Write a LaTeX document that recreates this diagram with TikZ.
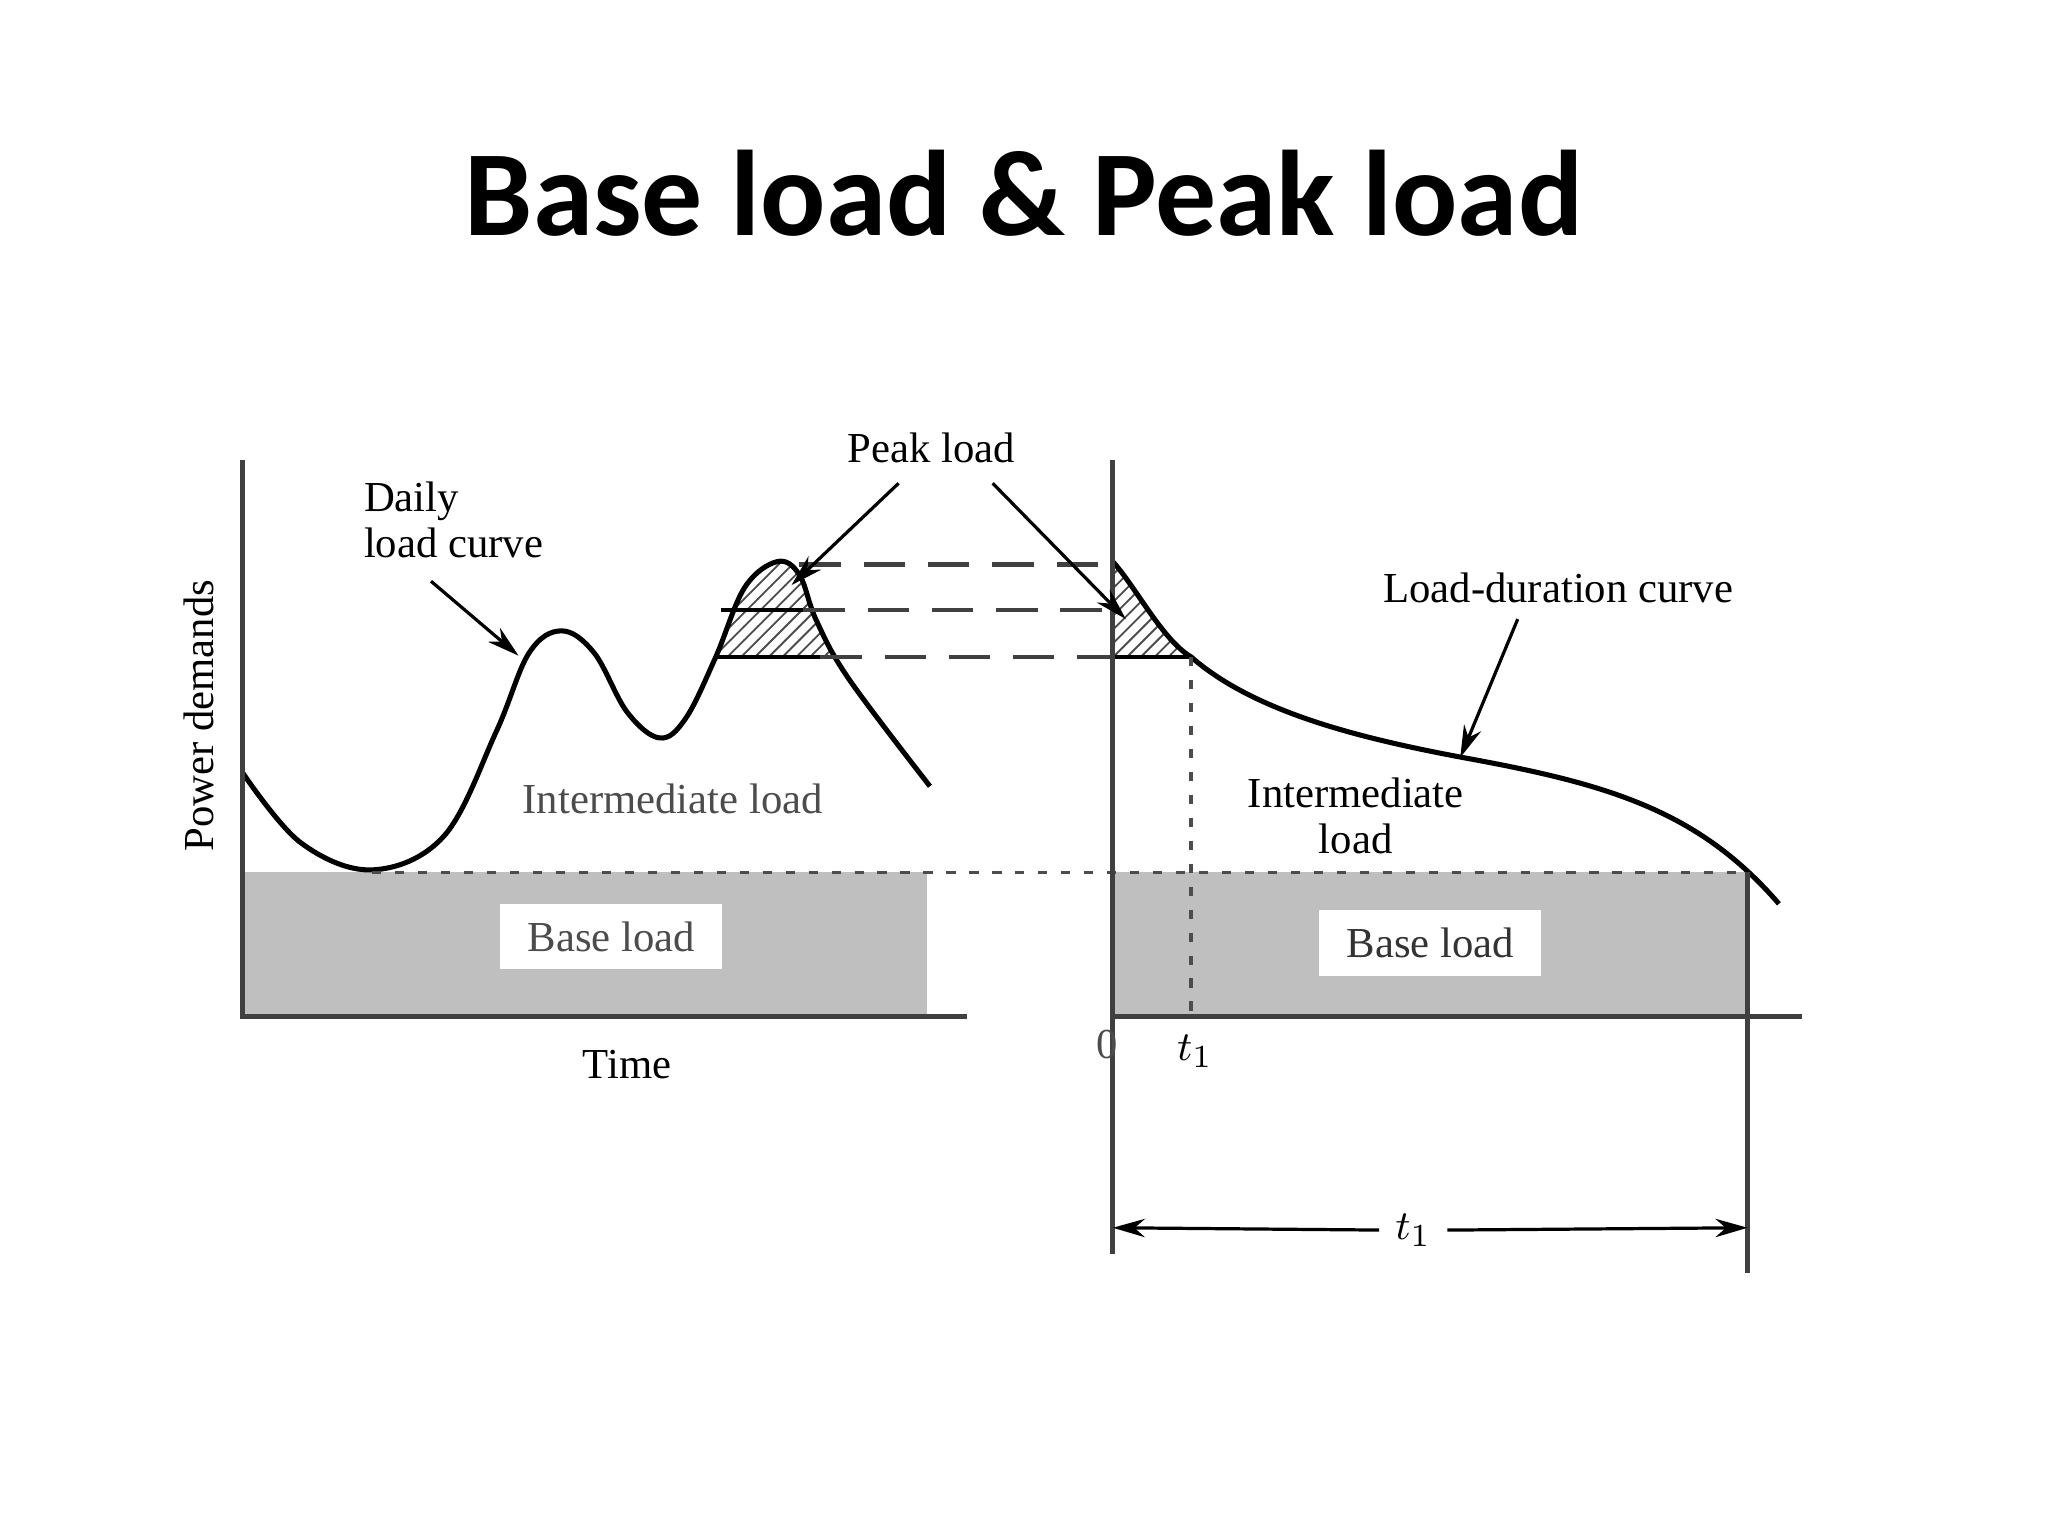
\documentclass[tikz,border=0pt]{standalone}
\usepackage{fontspec}
\setmainfont{Liberation Serif}
\newfontfamily\titlefont{Carlito}
\usetikzlibrary{patterns,arrows.meta}
\begin{document}
\begin{tikzpicture}[x=0.01cm,y=-0.01cm,
  lbl/.style={font=\fontsize{9.3}{10}\selectfont},
  ax/.style={line width=1.1pt,black!75},
  dsh/.style={dash pattern=on 9pt off 5pt,line width=1pt,black!75},
  dot/.style={dash pattern=on 2pt off 3pt,line width=0.8pt,black!70},
  arr/.style={-{Stealth[length=7pt,width=4pt]},line width=0.7pt},
  curve/.style={line width=1.1pt}]
\useasboundingbox (0,0) rectangle (1568,1176);
\node[font=\titlefont\bfseries\fontsize{26.5}{30}\selectfont] (title) at (784,148) {Base load \& Peak load};
% base rects
\fill[black!25] (186,668) rectangle (710,778);
\fill[black!25] (852,668) rectangle (1338,778);
\node[lbl,fill=white,minimum width=1.7cm,minimum height=0.5cm,text=black!70] (bl1) at (468,717) {Base load};
\node[lbl,fill=white,minimum width=1.7cm,minimum height=0.5cm,text=black!80] (bl2) at (1095,722) {Base load};
% hatch left
\begin{scope}
\clip plot[smooth,tension=0.6] coordinates {(186,592) (230,645) (285,666) (340,640) (380,560) (405,500) (430,483) (455,500) (480,545) (505,565) (525,550) (548,503) (570,450) (595,430) (612,440) (625,475) (650,520) (712,602)} -- (712,778) -- (186,778) -- cycle;
\fill[pattern=north east lines,pattern color=black!70] (530,420) rectangle (660,503);
\end{scope}
\draw[curve] plot[smooth,tension=0.6] coordinates {(186,592) (230,645) (285,666) (340,640) (380,560) (405,500) (430,483) (455,500) (480,545) (505,565) (525,550) (548,503) (570,450) (595,430) (612,440) (625,475) (650,520) (712,602)};
\draw[line width=0.8pt] (552,467) -- (615,467) (548,503) -- (628,503);
% hatch right
\begin{scope}
\clip (852,430) .. controls (870,450) and (890,490) .. (912,503) .. controls (960,545) and (1040,565) .. (1120,580) .. controls (1230,600) and (1300,620) .. (1362,692) -- (1362,778) -- (852,778) -- cycle;
\fill[pattern=north east lines,pattern color=black!70] (852,420) rectangle (912,503);
\end{scope}
\draw[curve] (852,430) .. controls (870,450) and (890,490) .. (912,503) .. controls (960,545) and (1040,565) .. (1120,580) .. controls (1230,600) and (1300,620) .. (1362,692);
\draw[line width=0.8pt] (852,503) -- (912,503);
% dashed guides
\draw[dsh] (612,432) -- (852,432);
\draw[dsh] (615,467) -- (852,467);
\draw[dsh] (628,503) -- (852,503);
\draw[dot] (285,668) -- (1338,668);
\draw[dot] (912,503) -- (912,778);
% axes
\draw[ax] (186,352) -- (186,778) -- (740,778);
\draw[ax] (852,352) -- (852,960);
\draw[ax] (852,778) -- (1380,778);
\draw[ax] (1338,668) -- (1338,975);
% dimension
\node[lbl] (t1b) at (1082,942) {$t_1$};
\coordinate (dl) at (852,940); \coordinate (dr) at (1338,940);
\draw[arr] (t1b) -- (dl);
\draw[arr] (t1b) -- (dr);
% labels
\node[lbl,rotate=90] (pd) at (152,548) {Power demands};
\node[lbl] (time) at (480,815) {Time};
\node[lbl,text=black!70] (zero) at (848,800) {0};
\node[lbl] (t1a) at (915,805) {$t_1$};
\node[lbl,align=left,anchor=north west,inner sep=0] (daily) at (278,368) {Daily\\load curve};
\coordinate (dailyT) at (397,502);
\draw[arr] (330,445) -- (dailyT);
\node[lbl] (peak) at (713,343) {Peak load};
\coordinate (pk1) at (606,448); \coordinate (pk2) at (862,474);
\draw[arr] (688,370) -- (pk1);
\draw[arr] (760,370) -- (pk2);
\node[lbl] (ldc) at (1193,450) {Load-duration curve};
\coordinate (ldcT) at (1118,580);
\draw[arr] (1162,474) -- (ldcT);
\node[lbl,text=black!70] (il1) at (515,612) {Intermediate load};
\node[lbl,align=center] (il2) at (1038,625) {Intermediate\\load};
\end{tikzpicture}
\end{document}
